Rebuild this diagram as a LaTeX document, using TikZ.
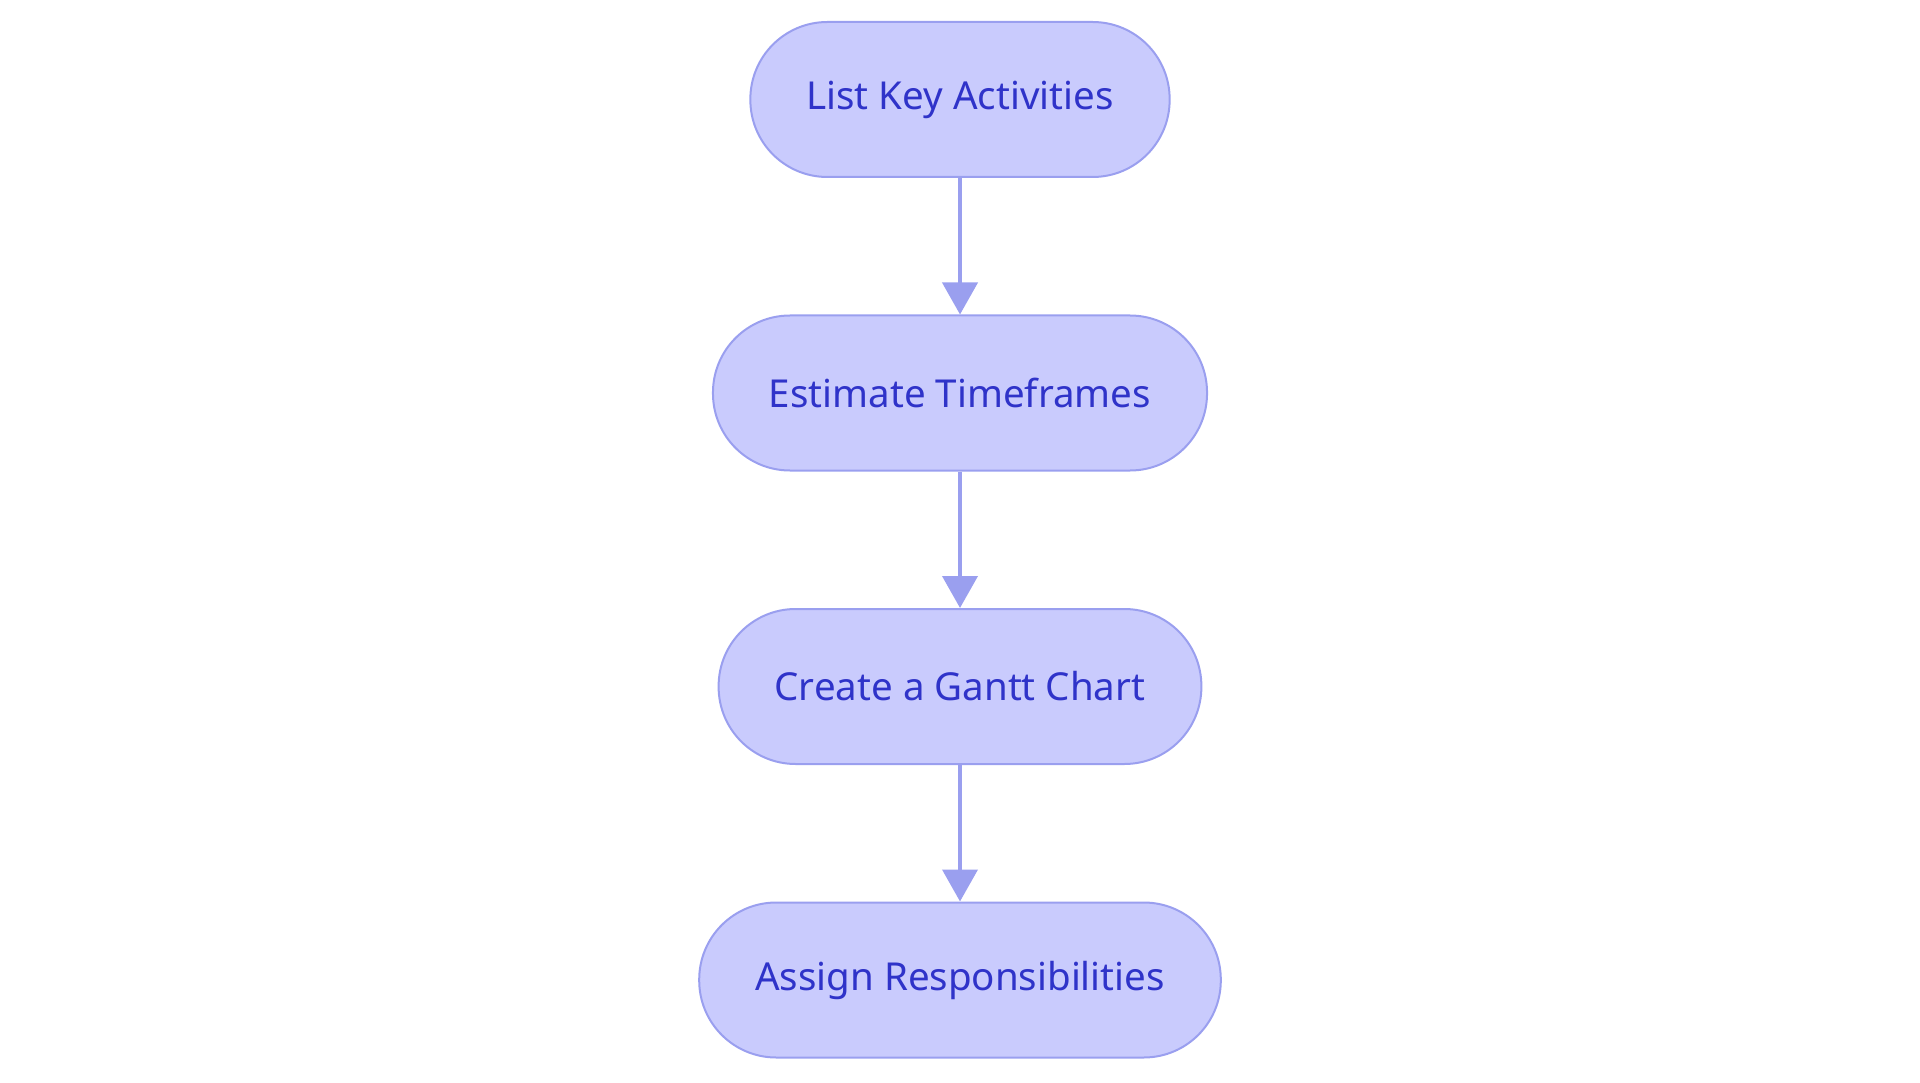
\documentclass[tikz,border=0pt]{standalone}
\usepackage{fontspec}
\setmainfont{Noto Sans}
\usepackage{tikz}
\usetikzlibrary{positioning}
\usetikzlibrary{arrows.meta}
\definecolor{boxfill}{HTML}{C9CBFD}
\definecolor{boxline}{HTML}{9A9FEF}
\definecolor{boxtext}{HTML}{2F33C9}

\begin{document}
\begin{tikzpicture}[x=1pt, y=1pt,
  stepbox/.style={draw=boxline, line width=2pt, fill=boxfill, rounded corners=77pt,
    minimum height=155pt, inner xsep=56pt, text=boxtext,
    font=\fontsize{38.5}{44}\selectfont},
  flow/.style={draw=boxline, line width=4pt, -{Triangle[width=35pt,length=32pt]}}]
  \useasboundingbox (0,0) rectangle (1920,-1083);
  \node[stepbox] (list) at (960,-99.5) {List Key Activities};
  \node[stepbox, below=136.5pt of list] (estimate) {Estimate Timeframes};
  \node[stepbox, below=136.5pt of estimate] (gantt) {Create a Gantt Chart};
  \node[stepbox, below=136.5pt of gantt] (assign) {Assign Responsibilities};
  \draw[flow] (list) -- (estimate);
  \draw[flow] (estimate) -- (gantt);
  \draw[flow] (gantt) -- (assign);
\end{tikzpicture}
\end{document}
